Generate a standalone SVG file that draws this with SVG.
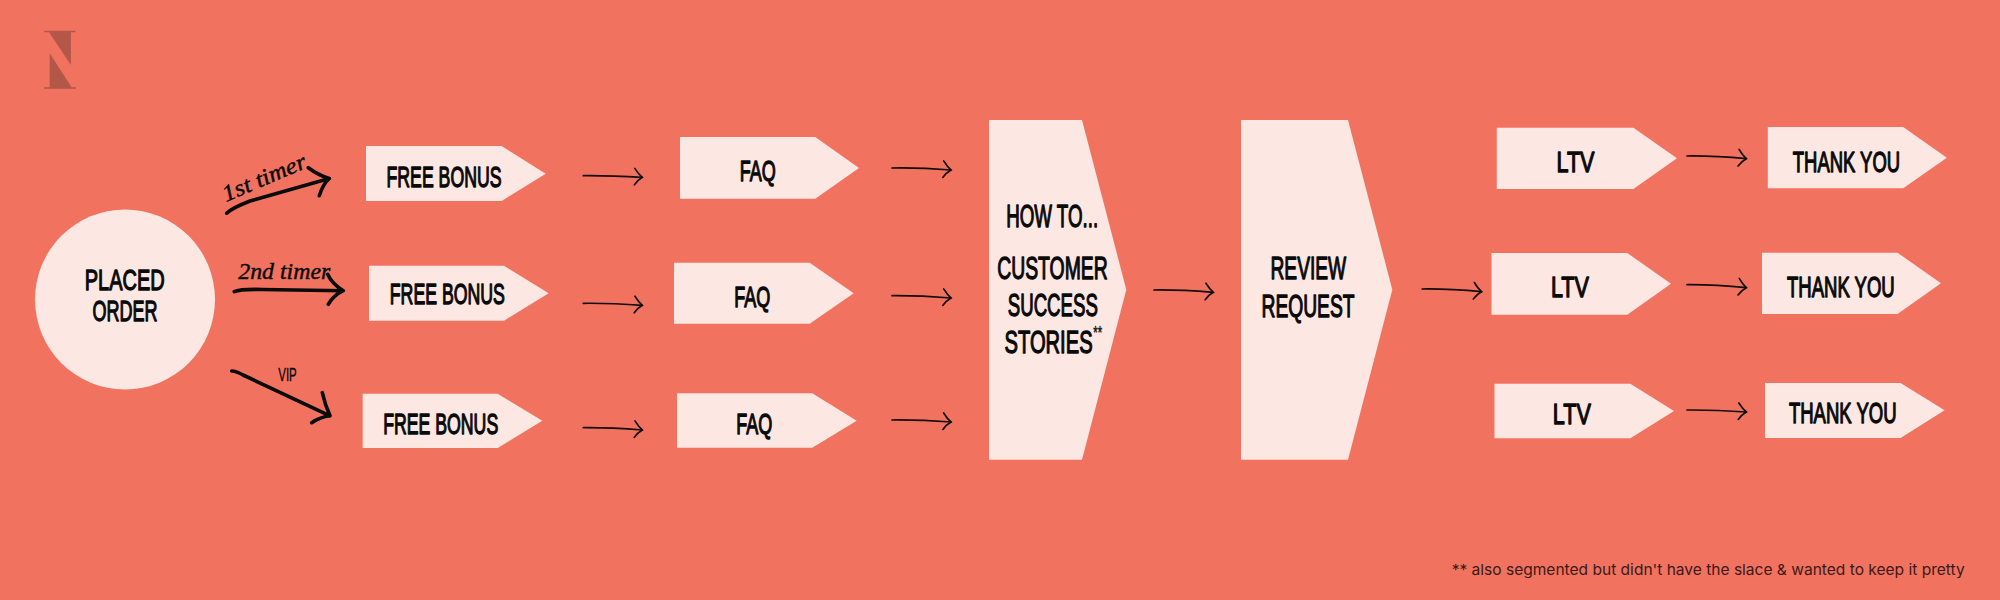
<svg xmlns="http://www.w3.org/2000/svg" width="2000" height="600" viewBox="0 0 2000 600">
<style>
.shape{fill:#fce7e2}
.t{font-family:"Liberation Sans Narrow","Liberation Sans",sans-serif;font-weight:400;fill:#0a0a0a;stroke:#0a0a0a;stroke-width:1.3;stroke-linejoin:round;stroke-linecap:round}
.s{font-size:29px}
.m{font-size:32px}
.tight{font-size:30px}
.thin{fill:none;stroke:#120c0b;stroke-width:1.7;stroke-linecap:round;stroke-linejoin:round}
.thick{fill:none;stroke:#0a0a0a;stroke-width:3.6;stroke-linecap:round;stroke-linejoin:round}
.hand{font-family:"Liberation Serif",serif;font-style:italic;font-size:23px;fill:#0a0a0a;stroke:#0a0a0a;stroke-width:.45}
.foot{font-family:Inter,"Liberation Sans",sans-serif;font-size:15px;fill:#3a1a16}
.logo{fill:#b35748}
</style>
<defs>
<marker id="head" markerUnits="userSpaceOnUse" markerWidth="14" markerHeight="22" refX="11" refY="11" orient="auto" overflow="visible">
<path d="M3 2.500Q7 8 11 11Q6.500 14 3.500 19" fill="none" stroke="#120c0b" stroke-width="1.7" stroke-linecap="round"/>
</marker>
</defs>
<rect width="2000" height="600" fill="#f27260"/>
<g id="logo">
<path class="logo" d="M44 30.800H75.400V32.300H70.900V65L49 32.300H44Z"/>
<path class="logo" d="M49.700 53.300L71.600 87.300H76V88.800H44V87.300H49.700Z"/>
</g>
<g id="placed-order">
<circle class="shape" cx="125" cy="299.500" r="90"/>
<text class="t tight" x="84.700" y="289.500" textLength="80" lengthAdjust="spacingAndGlyphs">PLACED</text>
<text class="t tight" x="92.500" y="320.500" textLength="65" lengthAdjust="spacingAndGlyphs">ORDER</text>
</g>
<g id="free-bonus-1">
<path class="shape" d="M366 146H501.700L545.700 173.700L501.700 201H366Z"/>
<text class="t s" x="386.500" y="186.500" textLength="115" lengthAdjust="spacingAndGlyphs">FREE BONUS</text>
</g>
<g id="free-bonus-2">
<path class="shape" d="M369 265.700H504L548.700 293.300L504 320.700H369Z"/>
<text class="t s" x="389.800" y="303.500" textLength="115" lengthAdjust="spacingAndGlyphs">FREE BONUS</text>
</g>
<g id="free-bonus-3">
<path class="shape" d="M362.700 393.700H497.700L542.300 420.700L497.700 448H362.700Z"/>
<text class="t s" x="383.200" y="433.500" textLength="115" lengthAdjust="spacingAndGlyphs">FREE BONUS</text>
</g>
<g id="faq-1">
<path class="shape" d="M680 137H815.300L859 168L815.300 198.700H680Z"/>
<text class="t s" x="739.800" y="180.800" textLength="36" lengthAdjust="spacingAndGlyphs">FAQ</text>
</g>
<g id="faq-2">
<path class="shape" d="M674 262.700H809.700L853.700 293.300L809.700 323.700H674Z"/>
<text class="t s" x="734.200" y="306.500" textLength="36" lengthAdjust="spacingAndGlyphs">FAQ</text>
</g>
<g id="faq-3">
<path class="shape" d="M677 393.300H812.300L856.700 420.700L812.300 447.700H677Z"/>
<text class="t s" x="736.200" y="433.500" textLength="36" lengthAdjust="spacingAndGlyphs">FAQ</text>
</g>
<g id="how-to">
<path class="shape" d="M989 120H1082L1126.300 289.700L1082 459.700H989Z"/>
<text class="t m" x="1006.200" y="226.500" textLength="92" lengthAdjust="spacingAndGlyphs">HOW TO...</text>
<text class="t m" x="997.200" y="279" textLength="110.500" lengthAdjust="spacingAndGlyphs">CUSTOMER</text>
<text class="t m" x="1007.800" y="316" textLength="90" lengthAdjust="spacingAndGlyphs">SUCCESS</text>
<text class="t m" transform="translate(1004.500 353) scale(.63 1)">STORIES<tspan dx="1" dy="-14" font-size="18" style="stroke-width:.4">**</tspan></text>
</g>
<g id="review-request">
<path class="shape" d="M1241 120H1348L1392.300 289.700L1348 459.700H1241Z"/>
<text class="t m" x="1270.500" y="279" textLength="75.700" lengthAdjust="spacingAndGlyphs">REVIEW</text>
<text class="t m" x="1261.500" y="316.500" textLength="93" lengthAdjust="spacingAndGlyphs">REQUEST</text>
</g>
<g id="ltv-1">
<path class="shape" d="M1496.800 127.700H1633.400L1677 158.300L1633.400 189H1496.800Z"/>
<text class="t s" x="1556.500" y="172" textLength="38" lengthAdjust="spacingAndGlyphs">LTV</text>
</g>
<g id="ltv-2">
<path class="shape" d="M1491.500 253H1627.300L1671 283.700L1627.300 314.700H1491.500Z"/>
<text class="t s" x="1550.900" y="297" textLength="38" lengthAdjust="spacingAndGlyphs">LTV</text>
</g>
<g id="ltv-3">
<path class="shape" d="M1494.500 383.700H1630.400L1674 411L1630.400 438.300H1494.500Z"/>
<text class="t s" x="1552.800" y="424" textLength="38" lengthAdjust="spacingAndGlyphs">LTV</text>
</g>
<g id="thank-you-1">
<path class="shape" d="M1767.800 127H1903.200L1946.900 157.700L1903.200 188.300H1767.800Z"/>
<text class="t s" x="1792.800" y="171.500" textLength="107.300" lengthAdjust="spacingAndGlyphs">THANK YOU</text>
</g>
<g id="thank-you-2">
<path class="shape" d="M1762 252.700H1897.500L1941 283.300L1897.500 314H1762Z"/>
<text class="t s" x="1787" y="297" textLength="107.700" lengthAdjust="spacingAndGlyphs">THANK YOU</text>
</g>
<g id="thank-you-3">
<path class="shape" d="M1765 383H1900.600L1944.600 410.300L1900.600 438H1765Z"/>
<text class="t s" x="1788.900" y="423" textLength="107.700" lengthAdjust="spacingAndGlyphs">THANK YOU</text>
</g>
<g id="connectors">
<path class="thick" d="M226.700 213.200Q232 208 250 201L329.300 178.500M308.300 167.700Q318 175 329.300 178.500Q323 184 319.300 195.700"/>
<path class="thick" d="M234.300 291.700Q240 289 262 289.500L343.300 290.700M327.700 274.300Q332 284 343.300 290.700Q334 295 328.300 304.300"/>
<path class="thick" d="M231.700 371Q236 371 243 375L330 415.800M322.300 392.700Q325 405 330 415.800Q320 417 311.700 422.700"/>
<path class="thin" marker-end="url(#head)" d="M583.300 175.700Q610 175.500 642.300 177.300"/>
<path class="thin" marker-end="url(#head)" d="M583.300 303.300Q610 303 642.300 305.300"/>
<path class="thin" marker-end="url(#head)" d="M583.300 427.700Q610 427.500 642.300 430"/>
<path class="thin" marker-end="url(#head)" d="M892 168Q920 167.500 951 170"/>
<path class="thin" marker-end="url(#head)" d="M892 295.700Q920 295.500 951 298"/>
<path class="thin" marker-end="url(#head)" d="M892 420Q920 419.700 951 422"/>
<path class="thin" marker-end="url(#head)" d="M1154 290Q1180 289.700 1213.300 292.300"/>
<path class="thin" marker-end="url(#head)" d="M1422.200 289Q1450 288.700 1481.500 291.700"/>
<path class="thin" marker-end="url(#head)" d="M1687 156Q1715 155.700 1746.300 158.700"/>
<path class="thin" marker-end="url(#head)" d="M1687 284.700Q1715 284.500 1746.300 287.700"/>
<path class="thin" marker-end="url(#head)" d="M1687 410Q1715 409.800 1746.300 412"/>
<text class="hand" transform="translate(226 202) rotate(-23)" textLength="89" lengthAdjust="spacingAndGlyphs">1st timer</text>
<text class="hand" x="238.300" y="279" textLength="92" lengthAdjust="spacingAndGlyphs">2nd timer</text>
<text class="t" font-size="19" x="278.300" y="380.500" textLength="18.400" lengthAdjust="spacingAndGlyphs" style="stroke-width:.4">VIP</text>
</g>
<g id="footnote">
<text class="foot" x="1451.700" y="575" textLength="513" lengthAdjust="spacingAndGlyphs">** also segmented but didn't have the slace &amp; wanted to keep it pretty</text>
</g>
</svg>
